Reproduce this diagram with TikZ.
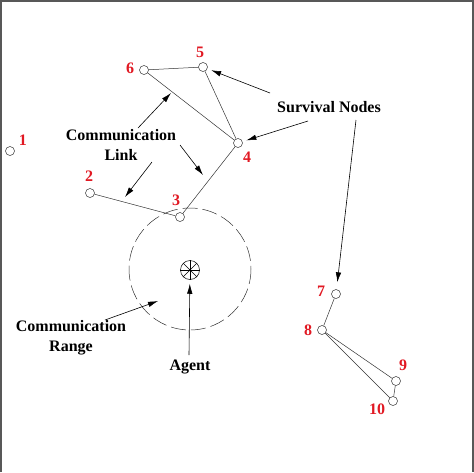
\documentclass[tikz,border=0pt]{standalone}
\usepackage{fontspec}
\setmainfont{Liberation Serif}
\usepackage{xcolor}
\usetikzlibrary{arrows.meta, positioning, calc}
\definecolor{framegray}{RGB}{88, 88, 88}
\definecolor{labelred}{RGB}{225, 25, 35}
\definecolor{linkgray}{RGB}{50, 50, 50}

\begin{document}
\begin{tikzpicture}[x=1pt, y=-1pt,
    sensor/.style={draw=linkgray, circle, minimum size=9pt, inner sep=0pt, line width=0.5pt},
    num/.style={text=labelred, font=\fontsize{16}{18}\selectfont\bfseries, inner sep=0pt},
    caption/.style={font=\fontsize{16}{20}\selectfont\bfseries, align=center, inner sep=0pt},
    link/.style={draw=linkgray, line width=0.5pt},
    pointer/.style={-{Latex[length=10pt, width=5.5pt]}, line width=0.6pt}]
  \useasboundingbox (0,0) rectangle (474,472);
  % frame
  \draw[framegray, line width=2pt] (1,472) -- (1,1) -- (473,1) -- (473,472);

  % survival nodes
  \node[sensor] (n1) at (10,151) {};
  \node[sensor] (n2) at (90,193) {};
  \node[sensor] (n3) at (180,217) {};
  \node[sensor] (n4) at (238,143) {};
  \node[sensor] (n5) at (203,67) {};
  \node[sensor] (n6) at (144,70) {};
  \node[sensor] (n7) at (336,294) {};
  \node[sensor] (n8) at (322,330) {};
  \node[sensor] (n9) at (396,381) {};
  \node[sensor] (n10) at (393,401) {};

  % node numbers
  \node[num] (l1) at (23,140) {1};
  \node[num] (l2) at (89,176) {2};
  \node[num] (l3) at (176,200) {3};
  \node[num] (l4) at (247,157) {4};
  \node[num] (l5) at (200,52) {5};
  \node[num] (l6) at (130,68) {6};
  \node[num] (l7) at (321,291) {7};
  \node[num] (l8) at (308,330) {8};
  \node[num] (l9) at (403,365) {9};
  \node[num] (l10) at (377,409) {10};

  % communication links
  \draw[link] (n2) -- (n3);
  \draw[link] (n3) -- (n4);
  \draw[link] (n4) -- (n6);
  \draw[link] (n4) -- (n5);
  \draw[link] (n5) -- (n6);
  \draw[link] (n7) -- (n8);
  \draw[link] (n8) -- (n9);
  \draw[link] (n8) -- (n10);
  \draw[link] (n9) -- (n10);

  % agent and its range
  \node[draw, circle, minimum size=19pt, inner sep=0pt, line width=0.5pt] (agent) at (190,270) {};
  \foreach \a in {0,45,90,135}
    \draw[line width=0.4pt] (agent.\a) -- (agent.\a+180);
  \fill (agent.center) circle (1.2pt);
  \draw[linkgray, dash pattern=on 15pt off 5pt, line width=0.5pt] (190,269) circle (61);

  % captions
  \node[caption] (survival) at (329,107) {Survival Nodes};
  \node[caption] (commlink) at (121,145) {Communication\\Link};
  \node[caption] (commrange) at (71,338) {Communication\\Range};
  \node[caption] (agentlbl) at (190,367) {Agent};

  % pointers
  \coordinate (s1) at (270,93);
  \coordinate (s2) at (308,121);
  \coordinate (s3) at (356,120);
  \draw[pointer, shorten >=4pt] (s1) -- (n5);
  \draw[pointer, shorten >=4pt] (s2) -- (n4);
  \draw[pointer, shorten >=7pt] (s3) -- (n7);

  \coordinate (c1) at (138,128);
  \coordinate (c1t) at (171,93);
  \coordinate (c2) at (180,145);
  \coordinate (c2t) at (203,175);
  \coordinate (c3) at (152,162);
  \coordinate (c3t) at (125,197);
  \draw[pointer] (c1) -- (c1t);
  \draw[pointer] (c2) -- (c2t);
  \draw[pointer] (c3) -- (c3t);

  \coordinate (r1) at (105,320);
  \coordinate (r1t) at (158,301);
  \draw[pointer] (r1) -- (r1t);

  \coordinate (a1) at (189,355);
  \draw[pointer, shorten >=4pt] (a1) -- (agent);
\end{tikzpicture}
\end{document}
